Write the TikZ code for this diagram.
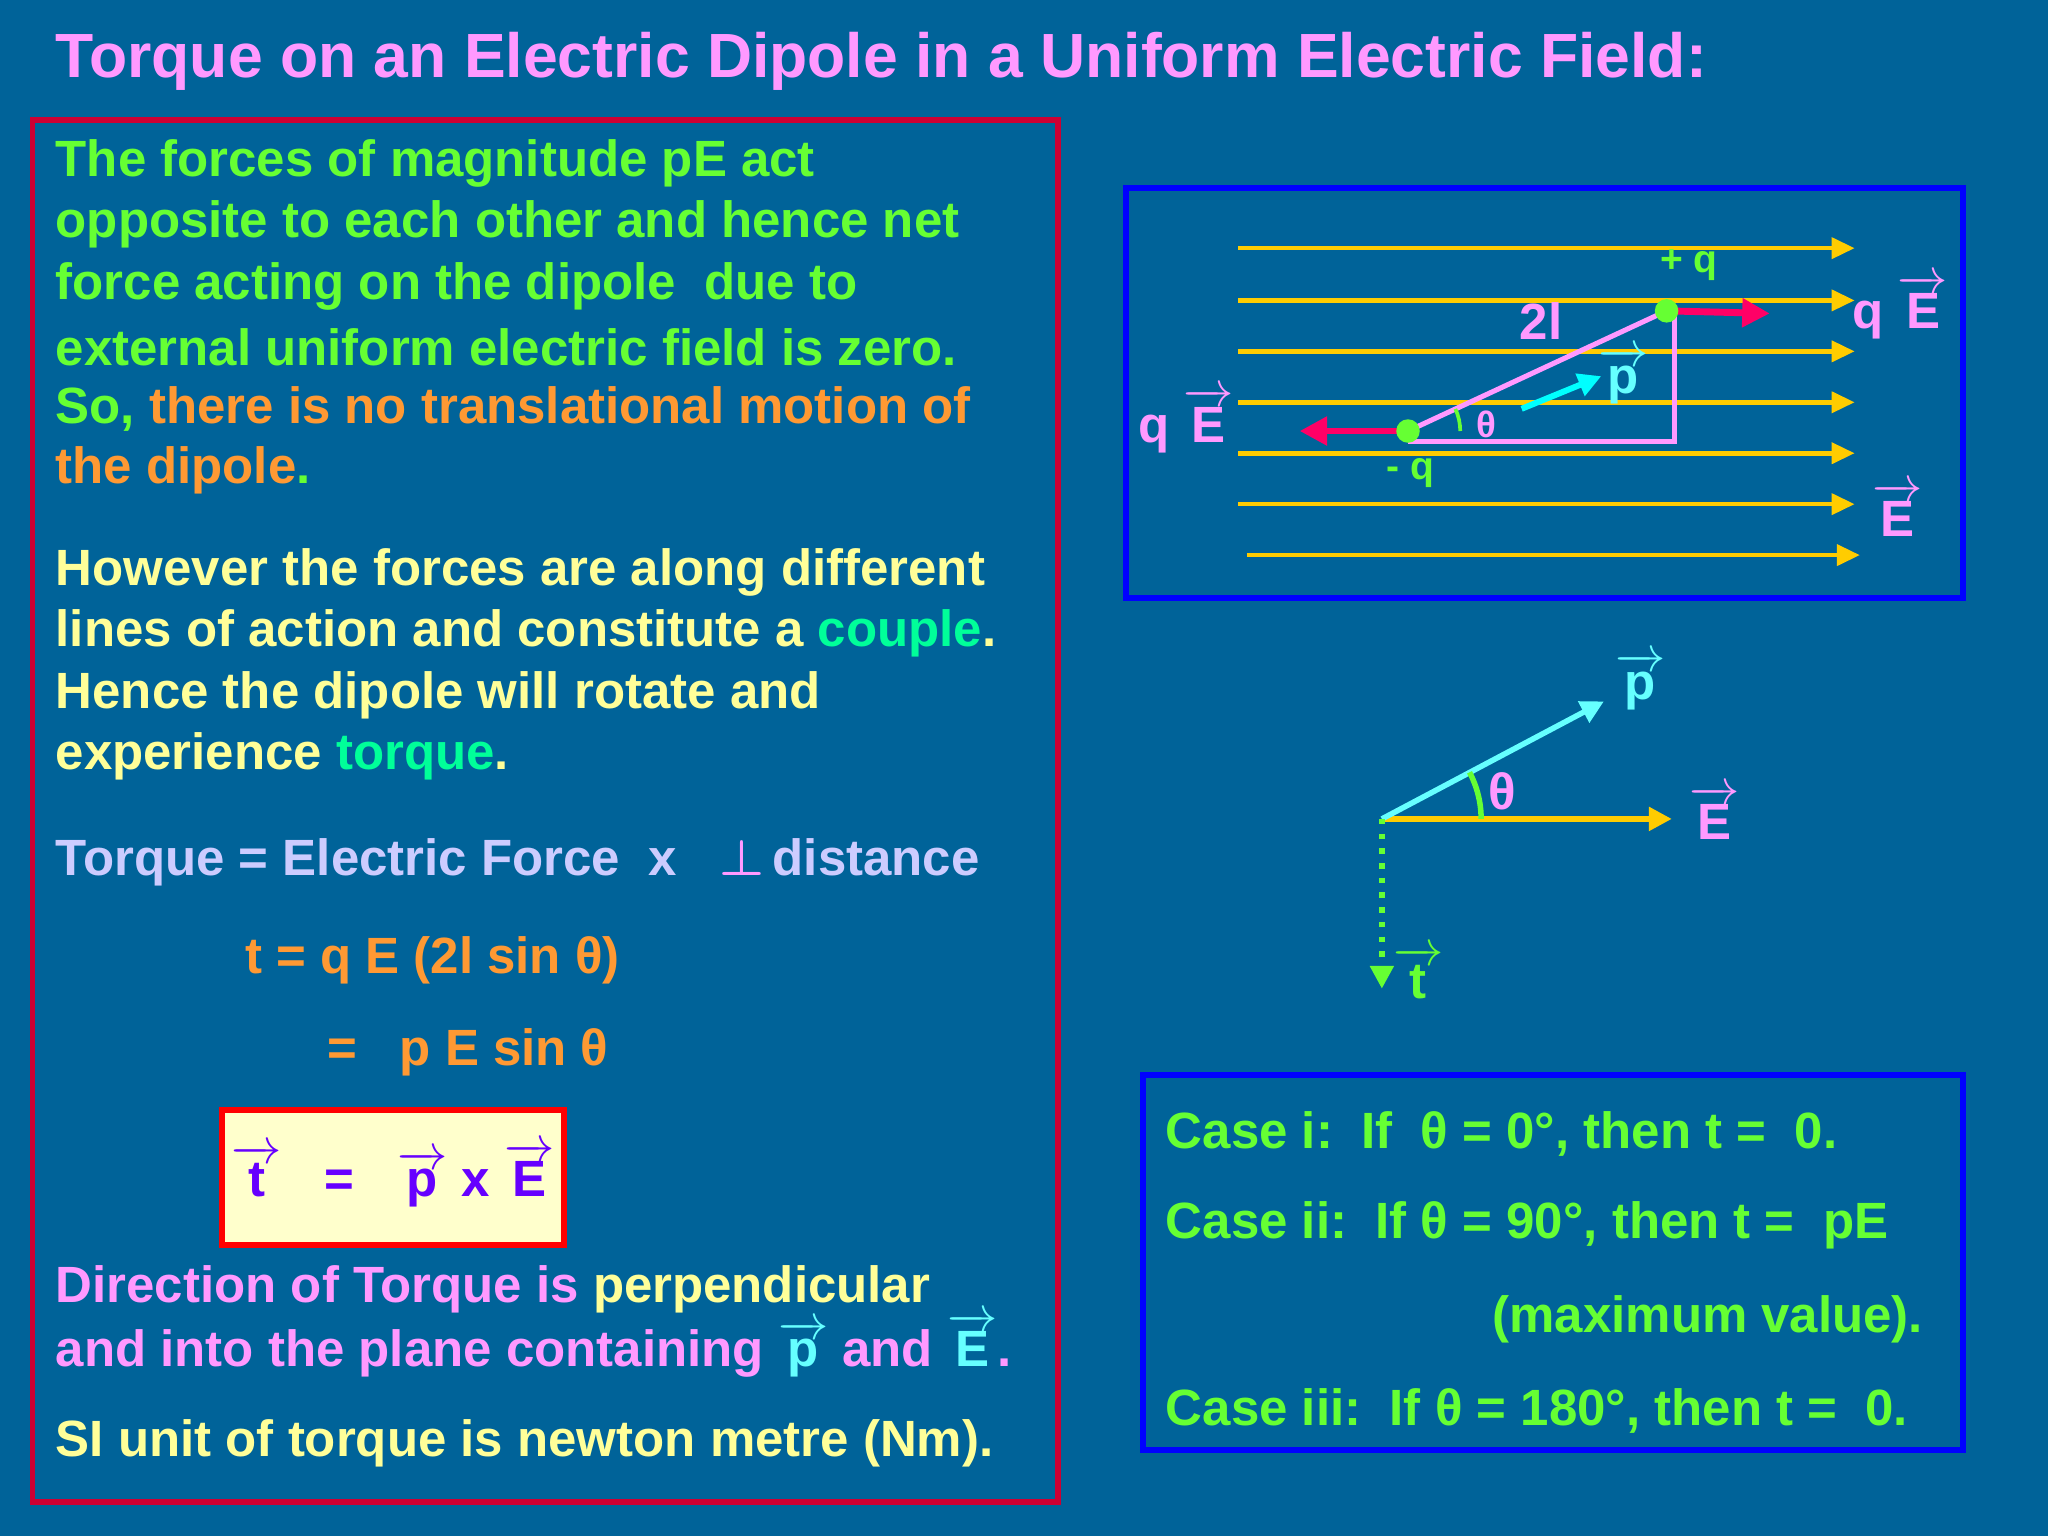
\documentclass[tikz,border=0pt]{standalone}
\usepackage{fontspec}
\setmainfont{Liberation Sans}
\usepackage{amsmath}
\usetikzlibrary{arrows.meta}
\definecolor{bg}{RGB}{0,99,153}
\definecolor{grn}{RGB}{102,255,51}
\definecolor{org}{RGB}{255,153,51}
\definecolor{lyel}{RGB}{255,255,153}
\definecolor{teal}{RGB}{0,255,153}
\definecolor{lblu}{RGB}{204,204,255}
\definecolor{pnk}{RGB}{255,153,255}
\definecolor{fyel}{RGB}{255,204,0}
\definecolor{dred}{RGB}{204,0,51}
\definecolor{magr}{RGB}{255,0,102}
\definecolor{cyn}{RGB}{0,255,255}
\definecolor{lcyn}{RGB}{102,255,255}
\definecolor{purp}{RGB}{102,0,255}
\definecolor{cream}{RGB}{255,255,204}
\newcommand\vect[1]{\ensuremath{\overrightarrow{\hbox{#1}}}}
\begin{document}
\begin{tikzpicture}[x=0.01cm,y=-0.01cm,font=\bfseries\fontsize{11.1pt}{13pt}\selectfont,
 txt/.style={anchor=west,inner sep=0pt},
 fl/.style={fyel,line width=1pt,-{Triangle[length=5pt,width=4.5pt]}},
 lab/.style={inner sep=0pt},
 sm/.style={inner sep=0pt,font=\bfseries\fontsize{8.5pt}{10pt}\selectfont}]
\fill[bg] (0,0) rectangle (1568,1176);
\node[txt,pnk,font=\bfseries\fontsize{13.6pt}{16pt}\selectfont] (title) at (42,47) {Torque on an Electric Dipole in a Uniform Electric Field:};
\draw[dred,line width=1.2pt] (25,92) rectangle (810,1150);
\draw[blue,line width=1.2pt] (862,144) rectangle (1503,458);
\draw[blue,line width=1.2pt] (875,823) rectangle (1503,1110);
% left text
\node[txt,grn] (l1) at (42,125) {The forces of magnitude pE act};
\node[txt,grn] (l2) at (42,172) {opposite to each other and hence net};
\node[txt,grn] (l3) at (42,219) {force acting on the dipole\ \ due to};
\node[txt,grn] (l4) at (42,266) {external uniform electric field is zero.};
\node[txt,grn] (l5) at (42,313) {So, \textcolor{org}{there is no translational motion of}};
\node[txt,org] (l6) at (42,360) {the dipole\textcolor{grn}{.}};
\node[txt,lyel] (l7) at (42,438) {However the forces are along different};
\node[txt,lyel] (l8) at (42,485) {lines of action and constitute a \textcolor{teal}{couple}.};
\node[txt,lyel] (l9) at (42,532) {Hence the dipole will rotate and};
\node[txt,lyel] (l10) at (42,579) {experience \textcolor{teal}{torque}.};
\node[txt,lblu] (l11) at (42,660) {Torque = Electric Force\ \ x\ \ \ \textcolor{pnk}{$\boldsymbol\perp$}\,distance};
\node[txt,org] (l12) at (187,735) {t = q E (2l sin θ)};
\node[txt,org] (l13) at (250,806) {=\ \ \ p E sin θ};
\draw[red,line width=1.4pt,fill=cream] (170,850) rectangle (432,953);
\node[lab,purp] (eq) at (301,900) {\vect{t}\ \ \ =\ \ \ \vect{p} x \vect{E}};
\node[txt,pnk] (l14) at (42,987) {Direction of Torque is \textcolor{lyel}{perpendicular}};
\node[txt,pnk] (l15) at (42,1030) {and into the plane containing \textcolor{lcyn}{\vect{p}} and \textcolor{lcyn}{\vect{E}}.};
\node[txt,lyel] (l16) at (42,1105) {SI unit of torque is newton metre (Nm).};
% field lines
\foreach \y/\n in {190/a,230/b,269/c,308/d,347/e,386/f}{
  \coordinate (s\n) at (948,\y); \coordinate (e\n) at (1420,\y);
  \draw[fl] (s\n) -- (e\n);}
\coordinate (sg) at (955,425); \coordinate (eg) at (1424,425);
\draw[fl] (sg) -- (eg);
% dipole
\coordinate (nq) at (1078,330); \coordinate (pq) at (1276,238);
\coordinate (c1) at (1078,338); \coordinate (c2) at (1282,338); \coordinate (c3) at (1282,238);
\draw[pnk,line width=1.1pt] (nq) -- (pq);
\draw[pnk,line width=1.1pt] (c1) -- (c2) -- (c3);
\coordinate (fr) at (1355,240); \coordinate (fl) at (995,330);
\draw[magr,line width=1.5pt,-{Triangle[length=6pt,width=6pt]}] (pq) -- (fr);
\draw[magr,line width=1.5pt,-{Triangle[length=6pt,width=6pt]}] (nq) -- (fl);
\fill[grn] (nq) circle (9);
\fill[grn] (pq) circle (9);
\coordinate (pa) at (1165,313); \coordinate (pb) at (1226,288);
\draw[cyn,line width=1.3pt,-{Triangle[length=5pt,width=5pt]}] (pa) -- (pb);
\draw[grn,line width=0.8pt] (1118,330) arc[start angle=0,end angle=-25,radius=40];
\node[sm,grn] (pql) at (1293,203) {+ q};
\node[lab,pnk] (twol) at (1180,246) {2l};
\node[lab,lcyn] (pl) at (1243,288) {\vect{p}};
\node[lab,pnk] (th1) at (1138,325) {\fontsize{8pt}{9pt}\selectfont θ};
\node[sm,grn] (nql) at (1080,362) {- q};
\node[lab,pnk] (qer) at (1455,235) {q \vect{E}};
\node[lab,pnk] (qel) at (908,322) {q \vect{E}};
\node[lab,pnk] (el) at (1453,390) {\vect{E}};
% lower diagram
\coordinate (o) at (1058,627); \coordinate (pt) at (1228,537); \coordinate (et) at (1280,627); \coordinate (tt) at (1058,757);
\draw[fyel,line width=1.2pt,-{Triangle[length=5pt,width=5pt]}] (o) -- (et);
\draw[lcyn,line width=1.2pt,-{Triangle[length=5pt,width=5pt]}] (o) -- (pt);
\draw[grn,line width=1.2pt,dotted,-{Triangle[length=5pt,width=5pt]}] (o) -- (tt);
\draw[grn,line width=1.2pt] (1134,627) arc[start angle=0,end angle=-28,radius=76];
\node[lab,lcyn] (pl2) at (1256,522) {\vect{p}};
\node[lab,pnk] (el2) at (1313,622) {\vect{E}};
\node[lab,pnk] (th2) at (1150,606) {θ};
\node[lab,grn] (tl) at (1086,745) {\vect{t}};
% cases
\node[txt,grn] (ca) at (892,868) {Case i:\ \ If\ \ θ = 0°, then t =\ \ 0.};
\node[txt,grn] (cb) at (892,938) {Case ii:\ \ If θ = 90°, then t =\ \ pE};
\node[txt,grn] (cc) at (1142,1010) {(maximum value).};
\node[txt,grn] (cd) at (892,1080) {Case iii:\ \ If θ = 180°, then t =\ \ 0.};
\end{tikzpicture}
\end{document}
